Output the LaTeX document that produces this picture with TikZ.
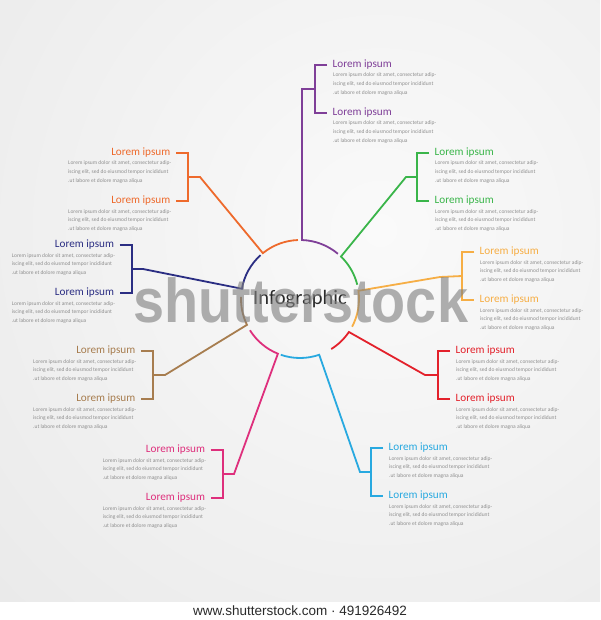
\documentclass[tikz,border=0pt]{standalone}
\usepackage{fontspec}
\setmainfont{Carlito}
\newfontfamily\footfont{Liberation Sans}
\newfontfamily\wmfont{Liberation Sans}
\usetikzlibrary{calc}
\definecolor{cPur}{HTML}{7F3F98}
\definecolor{cGrn}{HTML}{3AB54A}
\definecolor{cYel}{HTML}{F6AE45}
\definecolor{cRed}{HTML}{E3212B}
\definecolor{cBlu}{HTML}{28A9E0}
\definecolor{cPnk}{HTML}{DE2F7C}
\definecolor{cBrn}{HTML}{A77D4F}
\definecolor{cNav}{HTML}{2B2E83}
\definecolor{cOrg}{HTML}{EE6A2C}
\definecolor{bodygray}{HTML}{8E8E8E}
\definecolor{txtdark}{HTML}{2A2A2A}
\definecolor{bgin}{HTML}{FAFAFA}
\definecolor{bgout}{HTML}{DADADA}
\definecolor{wmgray}{HTML}{808080}
\tikzset{
  branch/.style={line width=1.8pt},
  head/.style={inner sep=0pt, font=\fontsize{11.2}{13}\selectfont},
  bodytxt/.style={inner sep=0pt, text=bodygray, font=\fontsize{5.5}{6.5}\selectfont},
  hubtxt/.style={inner sep=0pt, text=txtdark, font=\fontsize{20.5}{24}\selectfont},
  foottxt/.style={inner sep=0pt, text=txtdark, font=\footfont\fontsize{13.5}{16}\selectfont},
  wmtxt/.style={inner sep=0pt, text=wmgray, text opacity=0.62, font=\wmfont\bfseries\fontsize{62}{62}\selectfont, xscale=0.9},
}
% right-side item: name, x (heading left), y, colour
\newcommand\itemR[4]{%
  \node[head, text=#4, anchor=west] (#1h) at (#2,#3) {Lorem ipsum};
  \node[bodytxt, anchor=base west] (#1a) at (#2+0.5,#3+12) {Lorem ipsum dolor sit amet, consectetur adip-};
  \node[bodytxt, anchor=base west] (#1b) at ([yshift=-8.7pt]#1a.base west) {iscing elit, sed do eiusmod tempor incididunt};
  \node[bodytxt, anchor=base west] (#1c) at ([yshift=-8.7pt]#1b.base west) {.ut labore et dolore magna aliqua};
}
% left-side item: name, x (heading right), y, colour
\newcommand\itemL[4]{%
  \node[head, text=#4, anchor=east] (#1h) at (#2,#3) {Lorem ipsum};
  \node[bodytxt, anchor=base east] (#1a) at (#2+1,#3+12) {Lorem ipsum dolor sit amet, consectetur adip-};
  \node[bodytxt, anchor=base west] (#1b) at ([yshift=-8.7pt]#1a.base west) {iscing elit, sed do eiusmod tempor incididunt};
  \node[bodytxt, anchor=base west] (#1c) at ([yshift=-8.7pt]#1b.base west) {.ut labore et dolore magna aliqua};
}
% bracket on the right: name, colour, bracket x, y1, y2
\newcommand\branchR[5]{%
  \itemR{#1u}{#3+17.5}{#4}{#2}
  \itemR{#1d}{#3+17.5}{#5}{#2}
  \draw[branch, #2] ([xshift=-5.5pt]#1uh.west) -- ++(-12,0) |- ([xshift=-5.5pt]#1dh.west);
}
\newcommand\branchL[5]{%
  \itemL{#1u}{#3-17.5}{#4}{#2}
  \itemL{#1d}{#3-17.5}{#5}{#2}
  \draw[branch, #2] ([xshift=5.5pt]#1uh.east) -- ++(12,0) |- ([xshift=5.5pt]#1dh.east);
}
\begin{document}
\begin{tikzpicture}[x=1pt,y=-1pt]
\useasboundingbox (0,0) rectangle (600,620);
% background
\fill[white] (0,0) rectangle (600,620);
\begin{scope}
  \clip (0,0) rectangle (600,601);
  \shade[inner color=bgin, outer color=bgout] (380-1060,230-1060) rectangle (380+1060,230+1060);
\end{scope}
% hub
\node[hubtxt] (hub) at (300,299) {Infographic};
% junction coordinates
\coordinate (bPur) at (315,89);
\coordinate (jGrn) at (406,177); \coordinate (bGrn) at (417,177);
\coordinate (jYel) at (440,277); \coordinate (bYel) at (462,276);
\coordinate (jRed) at (425,375); \coordinate (bRed) at (438,375);
\coordinate (jBlu) at (360,472); \coordinate (bBlu) at (371,472);
\coordinate (jPnk) at (234,474); \coordinate (bPnk) at (222.7,474);
\coordinate (jBrn) at (165,375); \coordinate (bBrn) at (153,375);
\coordinate (jNav) at (143,269); \coordinate (bNav) at (131.7,269);
\coordinate (jOrg) at (200,177); \coordinate (bOrg) at (188,177);
% arcs and spokes
\draw[branch, cPur] (hub.center) ++(-50:59) arc[start angle=-50, end angle=-88, radius=59] |- (bPur);
\draw[branch, cOrg] (hub.center) ++(-92:59) arc[start angle=-92, end angle=-129, radius=59] -- (jOrg) -- (bOrg);
\draw[branch, cNav] (hub.center) ++(-132:59) arc[start angle=-132, end angle=-170, radius=59] -- (jNav) -- (bNav);
\draw[branch, cBrn] (hub.center) ++(-178:59) arc[start angle=-178, end angle=-206, radius=59] -- (jBrn) -- (bBrn);
\draw[branch, cPnk] (hub.center) ++(-212:59) arc[start angle=-212, end angle=-248, radius=59] -- (jPnk) -- (bPnk);
\draw[branch, cBlu] (hub.center) ++(-251:59) arc[start angle=-251, end angle=-289, radius=59] -- (jBlu) -- (bBlu);
\draw[branch, cRed] (hub.center) ++(-302:59) arc[start angle=-302, end angle=-326, radius=59] -- (jRed) -- (bRed);
\draw[branch, cYel] (hub.center) ++(-332:59) arc[start angle=-332, end angle=-368, radius=59] -- (jYel) -- (bYel);
\draw[branch, cGrn] (hub.center) ++(-14:59) arc[start angle=-14, end angle=-46, radius=59] -- (jGrn) -- (bGrn);
% brackets with texts
\branchR{pu}{cPur}{315}{65}{113}
\branchR{gr}{cGrn}{417}{153}{201}
\branchR{ye}{cYel}{462}{252}{300}
\branchR{re}{cRed}{438}{351}{399}
\branchR{bl}{cBlu}{371}{448}{496}
\branchL{or}{cOrg}{188}{153}{201}
\branchL{na}{cNav}{131.7}{245}{293}
\branchL{br}{cBrn}{153}{351}{399}
\branchL{pk}{cPnk}{222.7}{450}{498}
% watermark and footer
\node[wmtxt, anchor=base west] (wmark) at (133,322) {shutterstock};
\node[foottxt] (foot) at (300,610.5) {www.shutterstock.com · 491926492};
\end{tikzpicture}
\end{document}
